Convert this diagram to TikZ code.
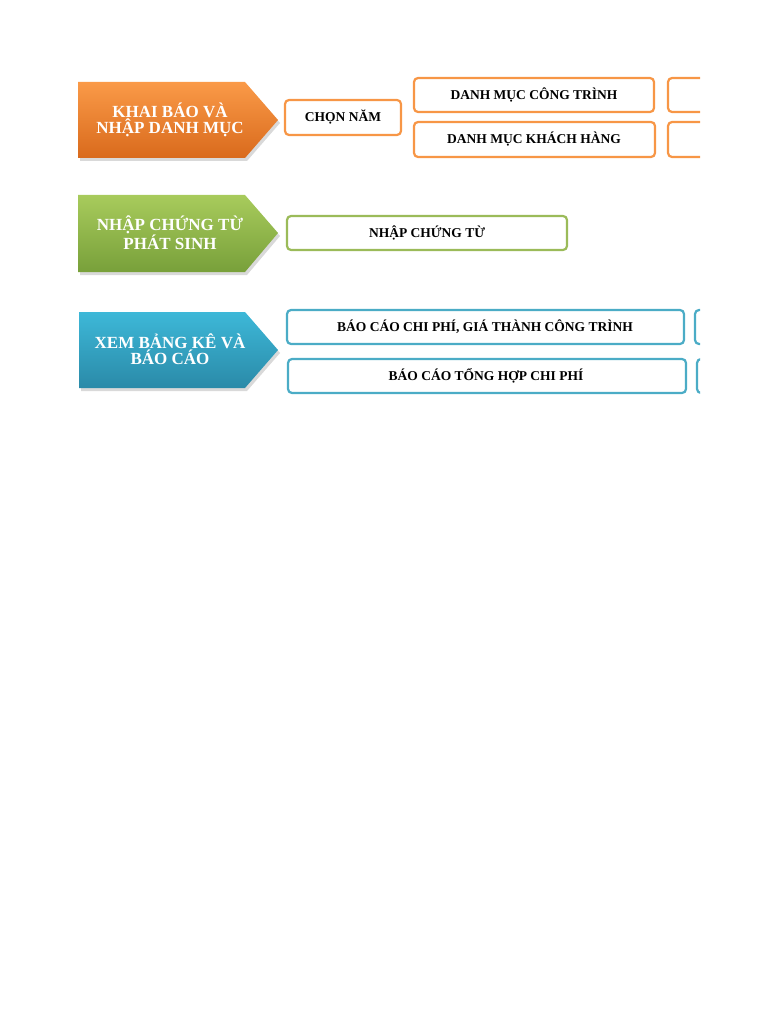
\documentclass[tikz,border=0pt]{standalone}
\usepackage{fontspec}
\setmainfont{Liberation Serif}
\usetikzlibrary{shadows}
\definecolor{orA}{HTML}{FA9A48}\definecolor{orB}{HTML}{D96A1C}\definecolor{orL}{HTML}{F79646}
\definecolor{grA}{HTML}{A8CB5C}\definecolor{grB}{HTML}{78A03A}\definecolor{grL}{HTML}{9BBB59}
\definecolor{blA}{HTML}{3DB8D8}\definecolor{blB}{HTML}{2A8AA8}\definecolor{blL}{HTML}{4BACC6}
\tikzset{
 lbl/.style={text=white,font=\bfseries\fontsize{17}{16}\selectfont,align=center},
 box/.style={draw=#1,line width=2.2pt,rounded corners=4pt,fill=white},
 btxt/.style={font=\bfseries\fontsize{13.5}{14}\selectfont},
 shad/.style={drop shadow={shadow xshift=2pt,shadow yshift=-3pt,opacity=0.3}}
}
\begin{document}
\begin{tikzpicture}[x=1pt,y=-1pt]
\useasboundingbox (0,0) rectangle (768,1024);
\begin{scope}
\clip (0,0) rectangle (700,1024);
% arrows
\path[shade,top color=orA,bottom color=orB,shad] (78,82) -- (245,82) -- (278,120) -- (245,158) -- (78,158) -- cycle;
\node[lbl] (k1) at (170,120) {KHAI BÁO VÀ\\NHẬP DANH MỤC};
\path[shade,top color=grA,bottom color=grB,shad] (78,195) -- (245,195) -- (278,233) -- (245,272) -- (78,272) -- cycle;
\node[lbl] (k2) at (170,233) {NHẬP CHỨNG TỪ\\PHÁT SINH};
\path[shade,top color=blA,bottom color=blB,shad] (79,312) -- (245,312) -- (278,350) -- (245,388) -- (79,388) -- cycle;
\node[lbl] (k3) at (170,349) {XEM BẢNG KÊ VÀ\\BÁO CÁO};
% boxes
\draw[box=orL] (285,100) rectangle (401,135);
\node[btxt] (b1) at (343,117) {CHỌN NĂM};
\draw[box=orL] (414,78) rectangle (654,112);
\node[btxt] (b2) at (534,95) {DANH MỤC CÔNG TRÌNH};
\draw[box=orL] (414,122) rectangle (655,157);
\node[btxt] (b3) at (534,139) {DANH MỤC KHÁCH HÀNG};
\draw[box=orL] (668,78) rectangle (760,112);
\draw[box=orL] (668,122) rectangle (760,157);
\draw[box=grL] (287,216) rectangle (567,250);
\node[btxt] (b4) at (427,233) {NHẬP CHỨNG TỪ};
\draw[box=blL] (287,310) rectangle (684,344);
\node[btxt] (b5) at (485,327) {BÁO CÁO CHI PHÍ, GIÁ THÀNH CÔNG TRÌNH};
\draw[box=blL] (288,359) rectangle (686,393);
\node[btxt] (b6) at (486,376) {BÁO CÁO TỔNG HỢP CHI PHÍ};
\draw[box=blL] (695,310) rectangle (760,344);
\draw[box=blL] (697,359) rectangle (760,393);
\end{scope}
\end{tikzpicture}
\end{document}
